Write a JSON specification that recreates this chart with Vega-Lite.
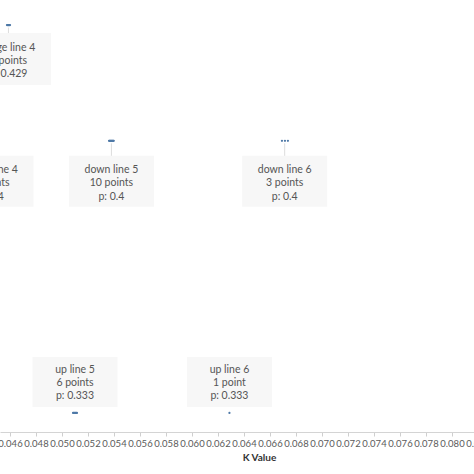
{
  "$schema": "https://vega.github.io/schema/vega-lite/v6.json",
  "autosize": "none",
  "width": 474,
  "height": 432,
  "padding": {"left": 0, "top": 0, "right": 0, "bottom": 42},
  "background": "white",
  "config": {"view": {"stroke": null}},
  "resolve": {"scale": {"shape": "independent"}},
  "datasets": {
    "points": [
      {"k": 0.04577, "y": 0.942, "group": "range line 4"},
      {"k": 0.04581, "y": 0.942, "group": "range line 4"},
      {"k": 0.04585, "y": 0.942, "group": "range line 4"},
      {"k": 0.04588, "y": 0.942, "group": "range line 4"},
      {"k": 0.04592, "y": 0.942, "group": "range line 4"},
      {"k": 0.04596, "y": 0.942, "group": "range line 4"},
      {"k": 0.04600, "y": 0.942, "group": "range line 4"},
      {"k": 0.04440, "y": 0.674, "group": "down line 4"},
      {"k": 0.04448, "y": 0.674, "group": "down line 4"},
      {"k": 0.04454, "y": 0.674, "group": "down line 4"},
      {"k": 0.04460, "y": 0.674, "group": "down line 4"},
      {"k": 0.04468, "y": 0.674, "group": "down line 4"},
      {"k": 0.05362, "y": 0.674, "group": "down line 5"},
      {"k": 0.05366, "y": 0.674, "group": "down line 5"},
      {"k": 0.05370, "y": 0.674, "group": "down line 5"},
      {"k": 0.05374, "y": 0.674, "group": "down line 5"},
      {"k": 0.05378, "y": 0.674, "group": "down line 5"},
      {"k": 0.05382, "y": 0.674, "group": "down line 5"},
      {"k": 0.05386, "y": 0.674, "group": "down line 5"},
      {"k": 0.05390, "y": 0.674, "group": "down line 5"},
      {"k": 0.05394, "y": 0.674, "group": "down line 5"},
      {"k": 0.05398, "y": 0.674, "group": "down line 5"},
      {"k": 0.06692, "y": 0.674, "group": "down line 6"},
      {"k": 0.06715, "y": 0.674, "group": "down line 6"},
      {"k": 0.06738, "y": 0.674, "group": "down line 6"},
      {"k": 0.05085, "y": 0.044, "group": "up line 5"},
      {"k": 0.05091, "y": 0.044, "group": "up line 5"},
      {"k": 0.05097, "y": 0.044, "group": "up line 5"},
      {"k": 0.05103, "y": 0.044, "group": "up line 5"},
      {"k": 0.05109, "y": 0.044, "group": "up line 5"},
      {"k": 0.05115, "y": 0.044, "group": "up line 5"},
      {"k": 0.06288, "y": 0.044, "group": "up line 6"}
    ],
    "notes": [
      {"k": 0.04588, "y": 0.942, "dir": "range", "label": "range line 4\n7 points\np: 0.429"},
      {"k": 0.04454, "y": 0.674, "dir": "down", "label": "down line 4\n5 points\np: 0.4"},
      {"k": 0.05380, "y": 0.674, "dir": "down", "label": "down line 5\n10 points\np: 0.4"},
      {"k": 0.06713, "y": 0.674, "dir": "down", "label": "down line 6\n3 points\np: 0.4"},
      {"k": 0.05100, "y": 0.044, "dir": "up", "label": "up line 5\n6 points\np: 0.333"},
      {"k": 0.06288, "y": 0.044, "dir": "up", "label": "up line 6\n1 point\np: 0.333"}
    ]
  },
  "encoding": {
    "x": {
      "field": "k",
      "type": "quantitative",
      "scale": {"domain": [0.045231, 0.083692], "range": [0, 500], "nice": false, "zero": false},
      "axis": {
        "title": "K Value",
        "values": [0.046, 0.048, 0.05, 0.052, 0.054, 0.056, 0.058, 0.06, 0.062, 0.064, 0.066, 0.068, 0.07, 0.072, 0.074, 0.076, 0.078, 0.08, 0.082],
        "format": ".3f",
        "grid": false,
        "labelFont": "Lato",
        "labelFontSize": 9.5,
        "labelColor": "#5a5a5a",
        "labelPadding": 2,
        "labelBound": false,
        "labelFlush": false,
        "labelOverlap": false,
        "tickColor": "#cfcfcf",
        "tickSize": 4,
        "domainColor": "#d4d4d4",
        "titleFont": "Lato",
        "titleFontSize": 10,
        "titleFontWeight": "bold",
        "titleColor": "#333333",
        "titleX": 259,
        "titleAlign": "center",
        "titlePadding": 5
      }
    },
    "y": {
      "field": "y",
      "type": "quantitative",
      "scale": {"domain": [0, 1], "nice": false, "zero": false},
      "axis": null
    }
  },
  "layer": [
    {
      "data": {"name": "notes"},
      "mark": {"type": "point", "filled": true, "color": "#f7f7f7", "strokeOpacity": 0, "size": 7225, "opacity": 1},
      "encoding": {
        "shape": {
          "field": "dir",
          "type": "nominal",
          "scale": {"domain": ["down", "range", "up"], "range": ["M-1,0.353L1,0.353L1,1.553L-1,1.553Z", "M-1,0.188L1,0.188L1,1.412L-1,1.412Z", "M-1,-1.318L1,-1.318L1,-0.141L-1,-0.141Z"]},
          "legend": null
        }
      }
    },
    {
      "data": {"name": "notes"},
      "mark": {"type": "point", "filled": false, "stroke": "#dcdcdc", "strokeWidth": 1, "size": 7225, "opacity": 1},
      "encoding": {
        "shape": {
          "field": "dir",
          "type": "nominal",
          "scale": {"domain": ["down", "range", "up"], "range": ["M0,0.06L0,0.353", "M0,0.06L0,0.188", "M0,0L0,0"]},
          "legend": null
        }
      }
    },
    {
      "data": {"name": "notes"},
      "transform": [{"filter": "datum.dir === 'down'"}],
      "mark": {"type": "text", "font": "Lato", "fontSize": 10.5, "color": "#555555", "align": "center", "baseline": "middle", "lineBreak": "\n", "lineHeight": 13.5, "dy": 29},
      "encoding": {"text": {"field": "label"}}
    },
    {
      "data": {"name": "notes"},
      "transform": [{"filter": "datum.dir === 'range'"}],
      "mark": {"type": "text", "font": "Lato", "fontSize": 10.5, "color": "#555555", "align": "center", "baseline": "middle", "lineBreak": "\n", "lineHeight": 13, "dy": 23},
      "encoding": {"text": {"field": "label"}}
    },
    {
      "data": {"name": "notes"},
      "transform": [{"filter": "datum.dir === 'up'"}],
      "mark": {"type": "text", "font": "Lato", "fontSize": 10.5, "color": "#555555", "align": "center", "baseline": "middle", "lineBreak": "\n", "lineHeight": 13, "dy": -43},
      "encoding": {"text": {"field": "label"}}
    },
    {
      "data": {"name": "points"},
      "mark": {"type": "circle", "size": 5, "color": "#4e79a7", "opacity": 1},
      "encoding": {}
    }
  ]
}
